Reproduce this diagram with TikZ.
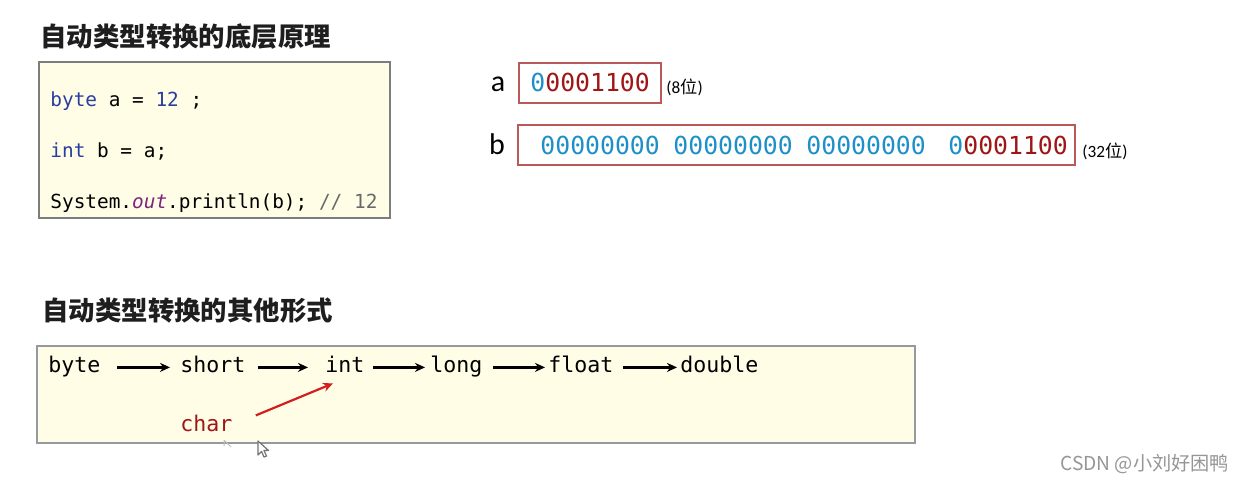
\documentclass[tikz,border=0pt]{standalone}
\usepackage{fontspec}
\setmonofont{DejaVu Sans Mono}
\setsansfont{Carlito}
\newfontfamily\cjk{Noto Sans CJK SC}
\usetikzlibrary{arrows.meta}
\definecolor{codeBg}{RGB}{255,253,230}
\definecolor{codeFrame}{RGB}{125,125,125}
\definecolor{chainFrame}{RGB}{150,152,162}
\definecolor{kwB}{RGB}{40,62,160}
\definecolor{outP}{RGB}{125,35,125}
\definecolor{cmtG}{RGB}{105,105,105}
\definecolor{bitB}{RGB}{30,144,200}
\definecolor{bitR}{RGB}{160,22,22}
\definecolor{bitFrame}{RGB}{185,90,90}
\definecolor{titleK}{RGB}{30,30,30}
\definecolor{charR}{RGB}{210,30,30}
\definecolor{markG}{RGB}{150,150,150}

\begin{document}
\begin{tikzpicture}[x=0.5pt,y=-0.5pt,>={Stealth[length=5pt,width=4.5pt]},
  title/.style={anchor=base west,inner sep=0,text=titleK,font=\cjk\bfseries\fontsize{13.2}{15}\selectfont},
  codeline/.style={anchor=base west,inner sep=0,font=\ttfamily\fontsize{9.7}{11}\selectfont},
  bits/.style={anchor=base west,inner sep=0,font=\ttfamily\fontsize{12.4}{14}\selectfont},
  varname/.style={anchor=base,inner sep=0,font=\sffamily\fontsize{15}{17}\selectfont},
  width note/.style={anchor=base west,inner sep=0,font=\sffamily\fontsize{8.6}{10}\selectfont},
  word/.style={anchor=base west,inner sep=0,text height=4.6pt,text depth=0pt,font=\ttfamily\fontsize{10.8}{12}\selectfont},
  conv/.style={->,line width=1.3pt},
  yellowbox/.style={fill=codeBg,draw=codeFrame,line width=0.8pt}]
\useasboundingbox (0,0) rectangle (1247,481);
\fill[white] (0,0) rectangle (1247,481);

% upper part: byte to int
\node[title] (t1) at (40,47) {自动类型转换的底层原理};
\draw[yellowbox] (39,62) rectangle (390,218);
\node[codeline] (l1) at (50,107) {\textcolor{kwB}{byte} a = \textcolor{kwB}{12} ;};
\node[codeline] (l2) at (50,157) {\textcolor{kwB}{int} b = a;};
\node[codeline] (l3) at (50,208) {System.\textcolor{outP}{\itshape out}.println(b); \textcolor{cmtG}{// 12}};

% bit patterns
\node[varname] (va) at (498,92) {a};
\node[varname] (vb) at (497,155) {b};
\draw[bitFrame,line width=0.8pt] (519,63) rectangle (661,103);
\draw[bitFrame,line width=0.8pt] (518,125) rectangle (1075,165);
\node[bits,text=bitR] (ba) at (530,91) {\textcolor{bitB}{0}0001100};
\foreach \gx [count=\i] in {540,673,806}
  \node[bits,text=bitB] (g\i) at (\gx,155) {00000000};
\node[bits,text=bitR] (g4) at (948,155) {\textcolor{bitB}{0}0001100};
\node[width note] (na) at (666,94) {(8{\cjk 位})};
\node[width note] (nb) at (1082,157) {(32{\cjk 位})};

% lower part: the chain
\node[title] (t2) at (42,320) {自动类型转换的其他形式};
\draw[yellowbox,draw=chainFrame] (37,346) rectangle (915,443);
\node[word] (byte) at (48,372) {byte};
\node[word] (short) at (180,372) {short};
\node[word] (int) at (325,372) {int};
\node[word] (long) at (430,372) {long};
\node[word] (float) at (548,372) {float};
\node[word] (double) at (680,372) {double};
\node[word,text=bitR] (char) at (180,431) {char};
\foreach \u/\v/\s/\e in {byte/short/8/5,short/int/6/8.5,int/long/4/2.5,long/float/5/1.5,float/double/4.5/1.5}
  \draw[conv,shorten <=\s pt,shorten >=\e pt] (\u) -- (\v);
\draw[->,charR,line width=1.1pt] ([xshift=11.5pt,yshift=3pt]char.north east) -- ([xshift=4pt,yshift=-5.5pt]int.south west);

% mouse pointers
\draw[black!25,line width=0.5pt] (224,440) -- (224,446) (224,440) -- (231,447);
\draw[black!55,fill=white,line width=0.6pt,line join=round]
  (258,441) -- (258,455) -- (261.5,451.5) -- (264,457) -- (266.5,456) -- (264,450.5) -- (268.5,450.5) -- cycle;

\node[anchor=base west,inner sep=0,text=markG,font=\cjk\fontsize{9.6}{11}\selectfont] (mark) at (1060,470) {CSDN @小刘好困鸭};
\end{tikzpicture}
\end{document}
